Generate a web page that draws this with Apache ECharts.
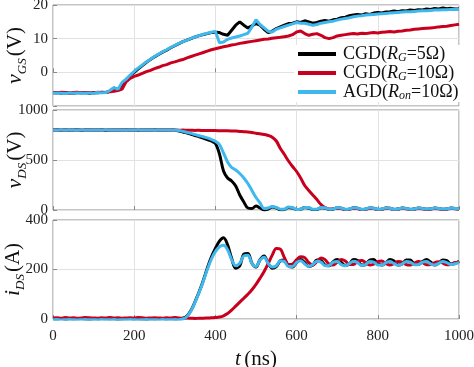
<!DOCTYPE html>
<html><head><meta charset="utf-8">
<script src="https://cdn.jsdelivr.net/npm/echarts@6/dist/echarts.min.js"></script>
<style>html,body{margin:0;padding:0;background:#fff}#c{width:474px;height:367px}</style>
</head><body><div id="c"></div>
<script>
const timeNs = [0,10,20,30,40,50,60,70,80,90,100,110,120,130,140,150,160,170,180,190,200,210,220,230,240,250,260,270,280,290,300,310,320,330,340,350,360,370,380,390,400,410,420,430,440,450,460,470,480,490,500,510,520,530,540,550,560,570,580,590,600,610,620,630,640,650,660,670,680,690,700,710,720,730,740,750,760,770,780,790,800,810,820,830,840,850,860,870,880,890,900,910,920,930,940,950,960,970,980,990,1000];
const xTicks = [0,200,400,600,800,1000];
const seriesNames = ['CGD5','CGD10','AGD'];

const vgsCGD5 = [-6.1,-6.0,-6.2,-6.0,-6.1,-6.2,-6.0,-6.1,-6.0,-6.2,-6.0,-6.1,-5.9,-6.0,-5.6,-4.6,-5.2,-3.6,-2.3,-1.0,0.0,1.0,2.0,3.0,3.8,4.6,5.3,6.0,6.6,7.3,7.9,8.5,9.1,9.6,10.0,10.5,10.9,11.2,11.5,11.8,11.9,11.8,11.3,11.0,12.5,14.0,15.0,14.0,13.2,13.8,14.5,14.0,12.8,11.8,12.2,13.0,13.5,14.0,14.5,14.6,15.0,14.8,15.3,15.0,14.6,14.8,15.2,15.4,15.2,15.6,15.8,16.2,16.4,16.8,17.0,17.2,17.0,17.4,17.2,17.6,17.8,17.6,17.9,18.0,18.2,18.0,18.3,18.2,18.5,18.4,18.6,18.5,18.8,18.7,19.0,18.8,19.1,18.9,19.0,18.8,18.8];
const vgsCGD10 = [-6.0,-6.1,-5.9,-6.0,-6.2,-6.0,-5.9,-6.1,-6.0,-6.0,-6.1,-5.9,-6.0,-6.0,-5.8,-5.6,-5.4,-5.0,-2.8,-1.8,-1.2,-0.8,-0.3,0.2,0.6,1.1,1.5,2.0,2.3,2.8,3.1,3.5,3.8,4.3,4.7,5.1,5.5,5.9,6.3,6.7,7.0,7.3,7.6,7.8,8.1,8.3,8.6,8.8,9.0,9.2,9.4,9.6,9.8,9.9,10.1,10.3,10.4,10.6,10.8,11.2,12.0,12.3,11.5,11.0,11.3,11.5,11.0,10.3,10.0,10.3,10.8,11.0,11.2,11.4,11.5,11.4,11.6,11.5,11.7,11.8,11.7,11.9,12.0,12.1,12.0,12.2,12.3,12.5,12.6,12.8,12.9,13.0,13.1,13.2,13.3,13.5,13.6,13.7,13.9,14.1,14.3];
const vgsAGD = [-6.2,-6.1,-6.2,-6.3,-6.1,-6.2,-6.1,-6.2,-6.2,-6.1,-6.2,-6.0,-6.1,-6.0,-5.4,-4.6,-5.0,-3.0,-2.0,-0.8,0.3,1.3,2.2,3.1,3.9,4.7,5.4,6.1,6.7,7.4,8.0,8.6,9.1,9.6,10.1,10.5,10.9,11.3,11.6,11.9,12.1,8.8,9.0,9.8,10.2,10.5,10.8,11.2,11.6,13.5,15.6,14.2,13.2,12.2,12.0,12.8,13.2,13.6,14.0,14.4,14.8,14.6,14.6,14.3,14.0,14.2,14.6,14.8,15.0,15.2,15.5,15.8,16.0,16.2,16.5,16.7,16.8,17.0,17.1,17.2,17.3,17.4,17.5,17.6,17.7,17.8,17.9,18.0,18.0,18.1,18.2,18.3,18.3,18.4,18.5,18.5,18.6,18.6,18.7,18.7,18.7];

const vdsCGD5 = [800,802,798,801,799,800,803,797,800,801,799,800,802,798,800,801,799,800,802,799,800,798,801,800,799,802,800,799,801,800,798,790,780,770,758,745,733,720,705,690,665,560,390,320,290,240,150,80,20,15,40,20,0,10,30,20,2,5,25,20,5,8,25,20,5,6,22,20,5,8,22,18,5,8,22,18,5,8,20,18,6,8,20,17,6,9,20,16,6,9,20,16,7,9,19,16,7,10,19,15,10];
const vdsCGD10 = [800,801,799,802,800,798,801,800,799,802,800,799,801,800,798,801,800,802,799,800,801,799,800,801,799,800,798,800,801,799,800,798,799,797,798,796,797,795,796,794,794,793,792,792,791,789,786,783,780,775,768,762,755,745,728,690,615,555,490,435,385,320,245,195,150,105,55,25,10,12,20,15,5,8,18,15,5,8,18,14,5,8,17,14,5,9,17,13,5,9,16,13,6,9,16,12,6,10,16,12,10];
const vdsAGD = [800,799,801,800,802,799,800,801,798,800,801,800,799,802,800,799,801,800,799,801,800,802,799,800,801,799,800,801,799,800,798,795,786,776,766,754,743,733,721,706,688,655,570,480,425,400,365,320,265,195,125,70,15,20,35,25,8,8,30,25,6,8,26,24,8,8,24,22,7,9,24,20,7,9,22,19,7,10,22,18,8,10,21,17,8,11,20,16,8,11,20,16,9,12,19,15,9,12,18,15,12];

const idsCGD5 = [1,0,2,-1,1,0,1,2,0,-1,1,0,2,1,0,1,-1,0,1,2,0,1,0,-1,1,0,1,2,0,1,0,1,3,12,35,70,110,155,205,250,285,315,328,300,245,205,215,262,265,225,210,240,255,225,205,212,235,238,215,210,228,240,228,212,218,238,236,218,215,232,240,228,216,222,240,236,218,220,238,240,224,218,228,240,234,218,222,238,238,222,220,232,240,230,218,226,238,236,222,224,234];
const idsCGD10 = [4,5,3,6,4,5,3,4,6,5,4,3,5,4,6,4,5,3,4,5,4,6,5,3,4,5,4,3,5,4,6,4,3,4,3,2,3,3,4,5,6,8,13,22,36,52,68,84,100,118,140,165,192,224,258,285,282,248,220,222,240,252,248,228,218,232,246,240,222,218,230,240,234,220,220,232,236,228,218,222,232,234,224,218,224,232,230,220,218,226,232,228,219,220,228,231,226,219,221,228,228];
const idsAGD = [-3,-2,-4,-3,-2,-3,-4,-3,-2,-3,-3,-4,-2,-3,-3,-2,-4,-3,-3,-2,-3,-4,-3,-2,-3,-3,-4,-2,-3,-3,-2,-3,0,10,33,68,108,152,200,242,272,292,298,280,240,215,225,255,258,225,212,238,250,225,210,215,235,232,212,212,228,235,222,212,220,233,230,215,216,230,232,220,215,224,233,228,216,220,232,230,218,218,228,232,224,217,222,232,230,219,220,230,232,223,218,225,232,228,220,223,228];

const colors = {CGD5:'#000000', CGD10:'#c8001e', AGD:'#3fb8ee'};
const FONT = 'Liberation Serif';
const pair = arr => arr.map((v,i)=>[timeNs[i], v]);

const grids = [
  {left:53, right:15, top:5, height:101},
  {left:53, right:15, top:110, height:100},
  {left:53, right:15, top:220, height:99}
].map(g => Object.assign(g, {show:true, borderColor:'#8a8a8a', borderWidth:1, backgroundColor:'#fff', containLabel:false, outerBoundsMode:'none'}));

function xAx(idx, showLabels){
  const a = {
    gridIndex: idx, type:'value', min:0, max:1000, interval:200,
    axisLine:{show:false},
    axisTick:{show:true, inside:true, length:4, lineStyle:{color:'#8a8a8a'}},
    splitLine:{show:true, lineStyle:{color:'#e2e2e2', width:1}},
    axisLabel:{show:showLabels, fontFamily:FONT, fontSize:15, color:'#222', margin:10, formatter: v => String(v)}
  };
  if (showLabels) {
    a.name = '{i|t} {n|(ns)}';
    a.nameLocation = 'middle';
    a.nameGap = 30;
    a.nameMoveOverlap = false;
    a.nameTextStyle = {rich:{i:{fontFamily:FONT, fontStyle:'italic', fontSize:21, color:'#111'}, n:{fontFamily:FONT, fontSize:21, color:'#111'}}};
  }
  return a;
}
function yAx(idx, min, max, interval, name, sub, unit, gap, hideMin){
  return {
    gridIndex: idx, type:'value', min:min, max:max, interval:interval,
    axisLine:{show:false},
    axisTick:{show:true, inside:true, length:4, lineStyle:{color:'#8a8a8a'}},
    splitLine:{show:true, lineStyle:{color:'#e2e2e2', width:1}},
    axisLabel:{fontFamily:FONT, fontSize:15, color:'#222', margin:5,
      formatter: v => (hideMin && v === min) ? '' : String(v)},
    name: '{v|' + name + '}{s|' + sub + '}{u|' + unit + '}',
    nameLocation:'middle', nameRotate:90, nameGap: gap, nameMoveOverlap:false,
    nameTextStyle:{rich:{
      v:{fontFamily:FONT, fontStyle:'italic', fontSize:22, color:'#111', lineHeight:28, verticalAlign:'middle'},
      s:{fontFamily:FONT, fontStyle:'italic', fontSize:13, color:'#111', lineHeight:16, verticalAlign:'bottom'},
      u:{fontFamily:FONT, fontSize:21, color:'#111', lineHeight:28, verticalAlign:'middle', padding:[0,0,0,2]}
    }}
  };
}

const sets = [[vgsCGD5, vgsCGD10, vgsAGD],[vdsCGD5, vdsCGD10, vdsAGD],[idsCGD5, idsCGD10, idsAGD]];
const series = [];
sets.forEach((set, gi) => {
  set.forEach((arr, k) => {
    const nm = seriesNames[k];
    series.push({
      name: nm, type:'line', xAxisIndex:gi, yAxisIndex:gi, data: pair(arr),
      showSymbol:false, symbol:'none', smooth: gi===0 ? false : 0.35,
      lineStyle:{color:colors[nm], width:3}, itemStyle:{color:colors[nm]},
      emphasis:{disabled:true}, z: 2 + k
    });
  });
});

const legendRich = {
  n:{fontFamily:FONT, fontSize:18, color:'#111', lineHeight:20, verticalAlign:'middle'},
  i:{fontFamily:FONT, fontStyle:'italic', fontSize:18, color:'#111', lineHeight:20, verticalAlign:'middle'},
  s:{fontFamily:FONT, fontStyle:'italic', fontSize:12, color:'#111', lineHeight:13, verticalAlign:'bottom'}
};
const legendText = {
  CGD5:'{n|CGD(}{i|R}{s|G}{n|=5Ω)}',
  CGD10:'{n|CGD(}{i|R}{s|G}{n|=10Ω)}',
  AGD:'{n|AGD(}{i|R}{s|on}{n|=10Ω)}'
};

const chart = echarts.init(document.getElementById('c'), null, {renderer:'canvas'});
chart.setOption({
  animation:false,
  backgroundColor:'#fff',
  grid: grids,
  xAxis: [xAx(0,false), xAx(1,false), xAx(2,true)],
  yAxis: [
    yAx(0,-10,20,10,'v','GS','(V)',24,true),
    yAx(1,0,1000,500,'v','DS','(V)',24,false),
    yAx(2,0,400,200,'i','DS','(A)',26,false)
  ],
  legend:{
    data: seriesNames, orient:'vertical', left:294, top:45,
    itemWidth:38, itemHeight:4, itemGap:0, icon:'rect',
    backgroundColor:'#fff', padding:[0,2,0,4],
    formatter: n => legendText[n],
    textStyle:{rich:legendRich, padding:[0,0,0,2]},
    selectedMode:false
  },
  series: series
});
</script>
</body></html>
